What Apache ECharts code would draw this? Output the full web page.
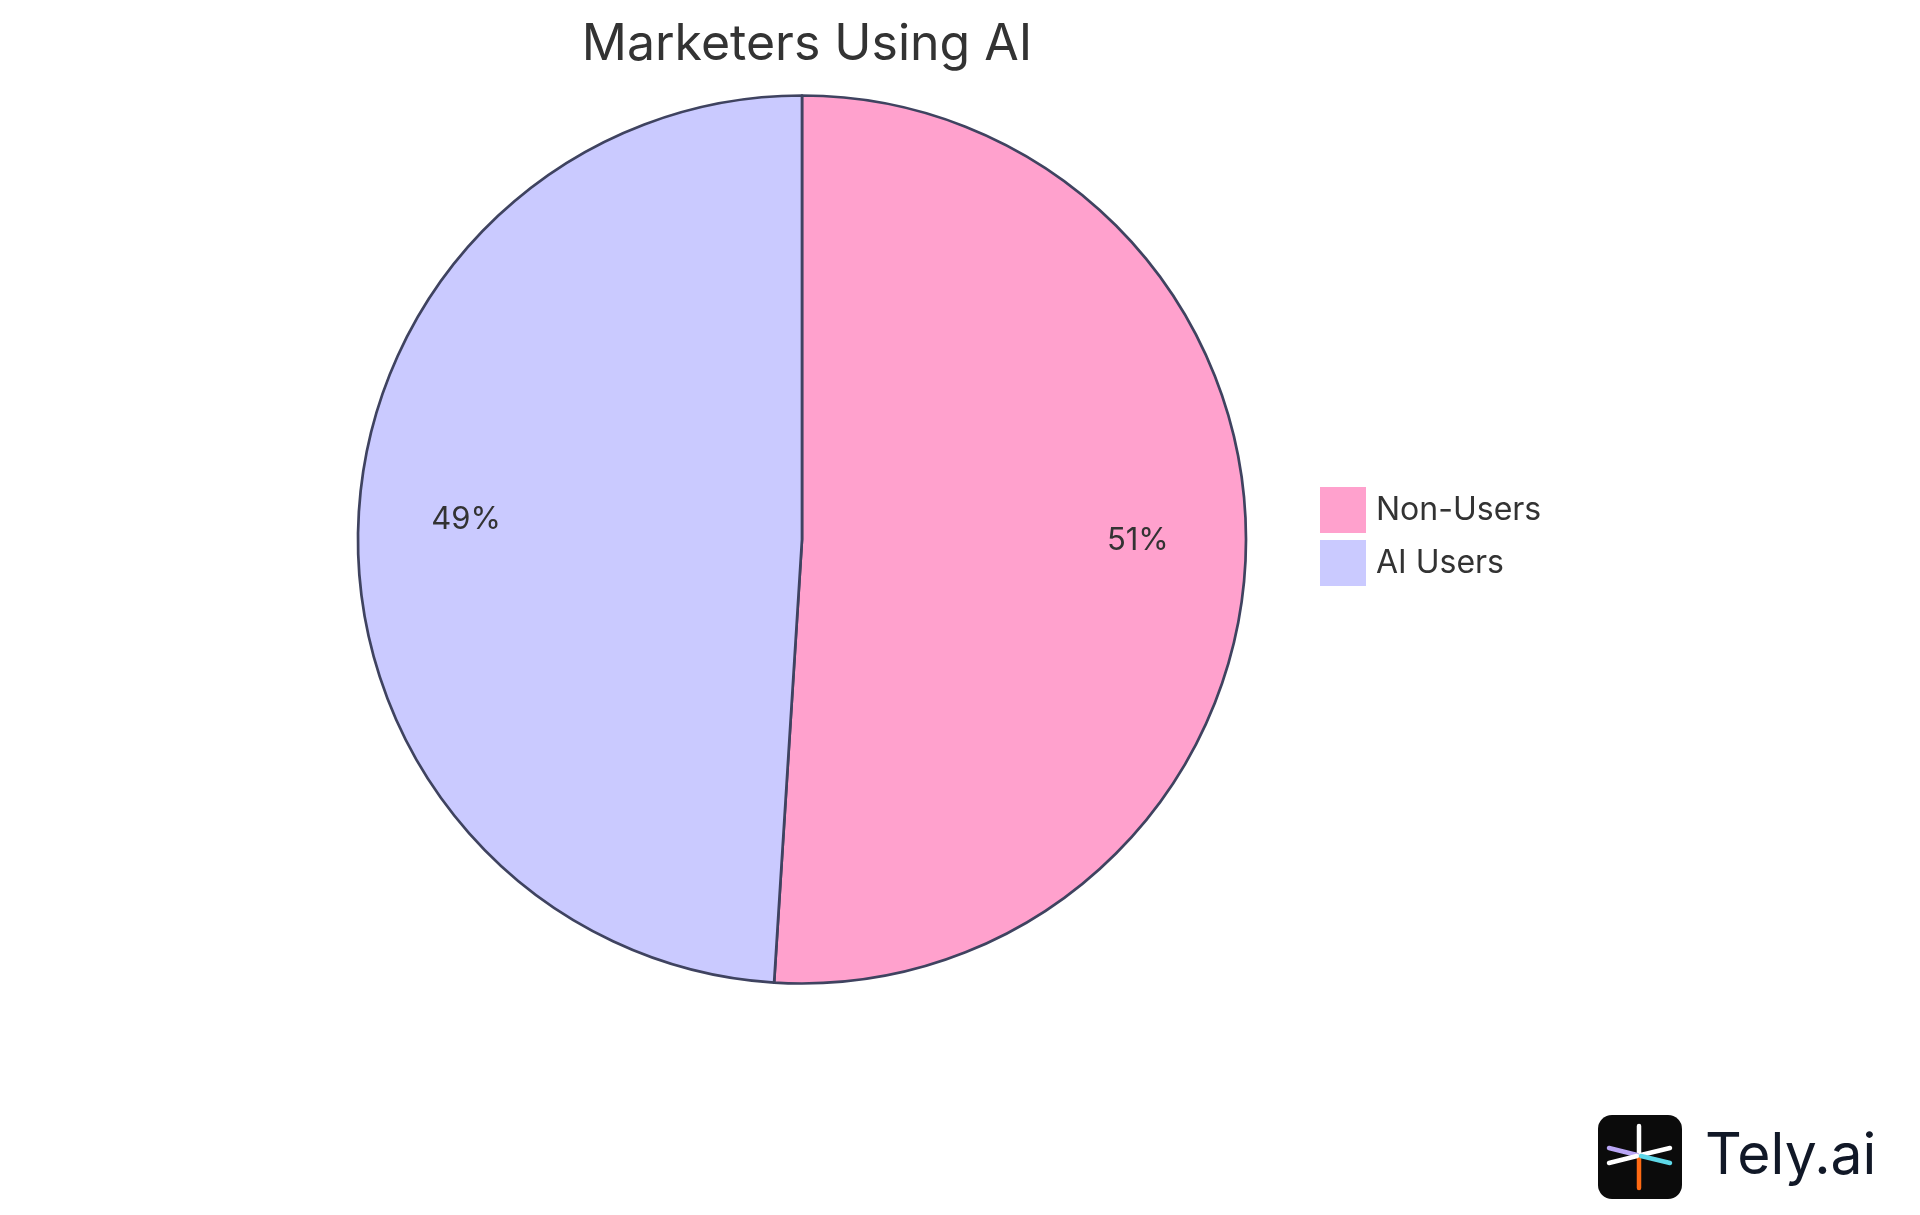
<!DOCTYPE html>
<html>
<head>
<meta charset="utf-8">
<script src="https://cdn.jsdelivr.net/npm/echarts@6/dist/echarts.min.js"></script>
<style>html,body{margin:0;padding:0;background:#fff}#c{width:1920px;height:1215px}</style>
</head>
<body>
<div id="c"></div>
<script>
const categories = ['Non-Users', 'AI Users'];
const values = [51, 49];
const colors = ['#FFA1CD', '#CACAFF'];
const titleText = 'Marketers Using AI';

const chart = echarts.init(document.getElementById('c'), null, {renderer: 'canvas'});
const cx = 802, cy = 539.5, R = 444;
const data = categories.map((n, i) => ({name: n, value: values[i], itemStyle: {color: colors[i]}}));
const FONT = 'Inter, Roboto, sans-serif';

chart.setOption({
  animation: false,
  backgroundColor: '#ffffff',
  title: {
    text: titleText, left: cx, top: 15, textAlign: 'center',
    textStyle: {fontFamily: FONT, fontSize: 50, fontWeight: 400, color: '#333333'}
  },
  legend: {
    orient: 'vertical', left: 1315, top: 482, itemWidth: 46, itemHeight: 46, itemGap: 7,
    icon: 'rect', data: categories,
    itemStyle: {borderWidth: 0},
    textStyle: {fontFamily: FONT, fontSize: 32, color: '#333333', padding: [0, 0, 0, 5]}
  },
  series: [
    {
      type: 'pie', center: [cx, cy], radius: [0, R], startAngle: 90, clockwise: true,
      data: data,
      itemStyle: {borderColor: '#3F4360', borderWidth: 2.7},
      label: {show: false}, labelLine: {show: false},
      emphasis: {disabled: true}
    },
    {
      type: 'pie', center: [cx, cy], radius: [0, R * 1.5], startAngle: 90, clockwise: true,
      silent: true, legendHoverLink: false,
      data: categories.map((n, i) => ({name: n, value: values[i]})),
      itemStyle: {color: 'rgba(0,0,0,0)', borderWidth: 0},
      label: {show: true, position: 'inside', formatter: '{c}%', fontFamily: FONT, fontSize: 31, color: '#333333', offset: [0, -9]},
      labelLine: {show: false},
      emphasis: {disabled: true}
    }
  ],
  graphic: [
    {type: 'rect', shape: {x: 1598, y: 1115, width: 84, height: 84, r: 14}, style: {fill: '#0b0b0b'}},
    {type: 'line', shape: {x1: 1639, y1: 1126, x2: 1639, y2: 1155}, style: {stroke: '#ffffff', lineWidth: 4.5, lineCap: 'round'}},
    {type: 'line', shape: {x1: 1639, y1: 1156, x2: 1639, y2: 1188}, style: {stroke: '#FF6A13', lineWidth: 4.5, lineCap: 'round'}},
    {type: 'line', shape: {x1: 1609, y1: 1148, x2: 1637, y2: 1155}, style: {stroke: '#B9A6F5', lineWidth: 4.5, lineCap: 'round'}},
    {type: 'line', shape: {x1: 1609, y1: 1163, x2: 1637, y2: 1156}, style: {stroke: '#ffffff', lineWidth: 4.5, lineCap: 'round'}},
    {type: 'line', shape: {x1: 1670, y1: 1148, x2: 1641, y2: 1155}, style: {stroke: '#ffffff', lineWidth: 4.5, lineCap: 'round'}},
    {type: 'line', shape: {x1: 1670, y1: 1163, x2: 1641, y2: 1156}, style: {stroke: '#5ED8E8', lineWidth: 4.5, lineCap: 'round'}},
    {type: 'text', x: 1705, y: 1157, style: {text: 'Tely.ai', fontFamily: FONT, fontSize: 57, fontWeight: 400, fill: '#111827', verticalAlign: 'middle', align: 'left'}}
  ]
});
</script>
</body>
</html>
